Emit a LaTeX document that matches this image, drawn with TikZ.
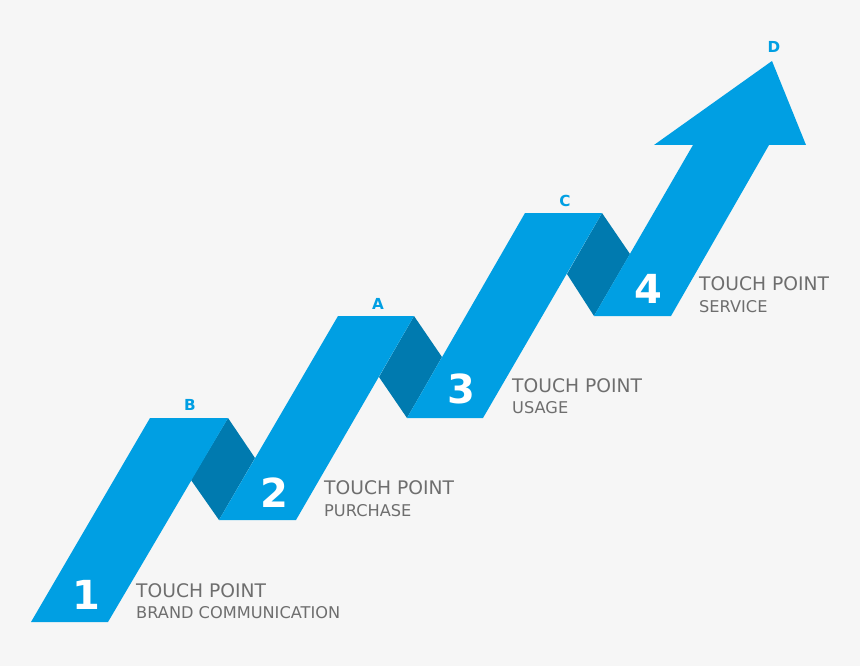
\documentclass[tikz,border=0pt]{standalone}
\usepackage{fontspec}
\setmainfont{DejaVu Sans}
\definecolor{bg}{HTML}{F6F6F6}
\definecolor{band}{HTML}{009FE3}
\definecolor{fold}{HTML}{007AAF}
\definecolor{txt}{HTML}{6E6E6E}
\tikzset{
  bandfill/.style={fill=band},
  foldfill/.style={fill=fold},
  numtext/.style={text=white,inner sep=0pt,anchor=base,font=\fontsize{40}{40}\selectfont\bfseries},
  steplabel/.style={text=band,inner sep=0pt,anchor=base,font=\fontsize{15.2}{15}\selectfont\bfseries},
  titletext/.style={text=txt,inner sep=0pt,anchor=base west,font=\fontsize{18.7}{19}\selectfont},
  subtext/.style={text=txt,inner sep=0pt,anchor=base west,font=\fontsize{16.2}{16}\selectfont}
}
\begin{document}
\begin{tikzpicture}[x=1pt,y=-1pt]
\fill[bg] (0,0) rectangle (860,666);
\useasboundingbox (0,0) rectangle (860,666);
% folds
\fill[foldfill] (228,418) -- (255,458) -- (219,520) -- (191,480) -- cycle;
\fill[foldfill] (414,316) -- (442,357) -- (407,418) -- (379,377) -- cycle;
\fill[foldfill] (602,213) -- (630,254) -- (594,316) -- (567,274) -- cycle;
% bands
\fill[bandfill] (31,622) -- (108,622) -- (228,418) -- (150,418) -- cycle;
\fill[bandfill] (219,520) -- (296,520) -- (414,316) -- (338,316) -- cycle;
\fill[bandfill] (407,418) -- (483,418) -- (602,213) -- (525,213) -- cycle;
\fill[bandfill] (594,316) -- (671,316) -- (769,145) -- (806,145) -- (772,61) -- (654,145) -- (693,145) -- cycle;
% numbers
\node[numtext] (n1) at (86,609) {1};
\node[numtext] (n2) at (274,507) {2};
\node[numtext] (n3) at (461,403) {3};
\node[numtext] (n4) at (648,303) {4};
% letters
\node[steplabel] (lb) at (190,410.7) {B};
\node[steplabel] (la) at (378,309) {A};
\node[steplabel] (lc) at (565,207) {C};
\node[steplabel] (ld) at (774,53) {D};
% texts
\node[titletext] (t1) at (136,597) {TOUCH POINT};
\node[subtext] (s1) at (136,618) {BRAND COMMUNICATION};
\node[titletext] (t2) at (324,494) {TOUCH POINT};
\node[subtext] (s2) at (324,516) {PURCHASE};
\node[titletext] (t3) at (512,392) {TOUCH POINT};
\node[subtext] (s3) at (512,413) {USAGE};
\node[titletext] (t4) at (699,290) {TOUCH POINT};
\node[subtext] (s4) at (699,312) {SERVICE};
\end{tikzpicture}
\end{document}
